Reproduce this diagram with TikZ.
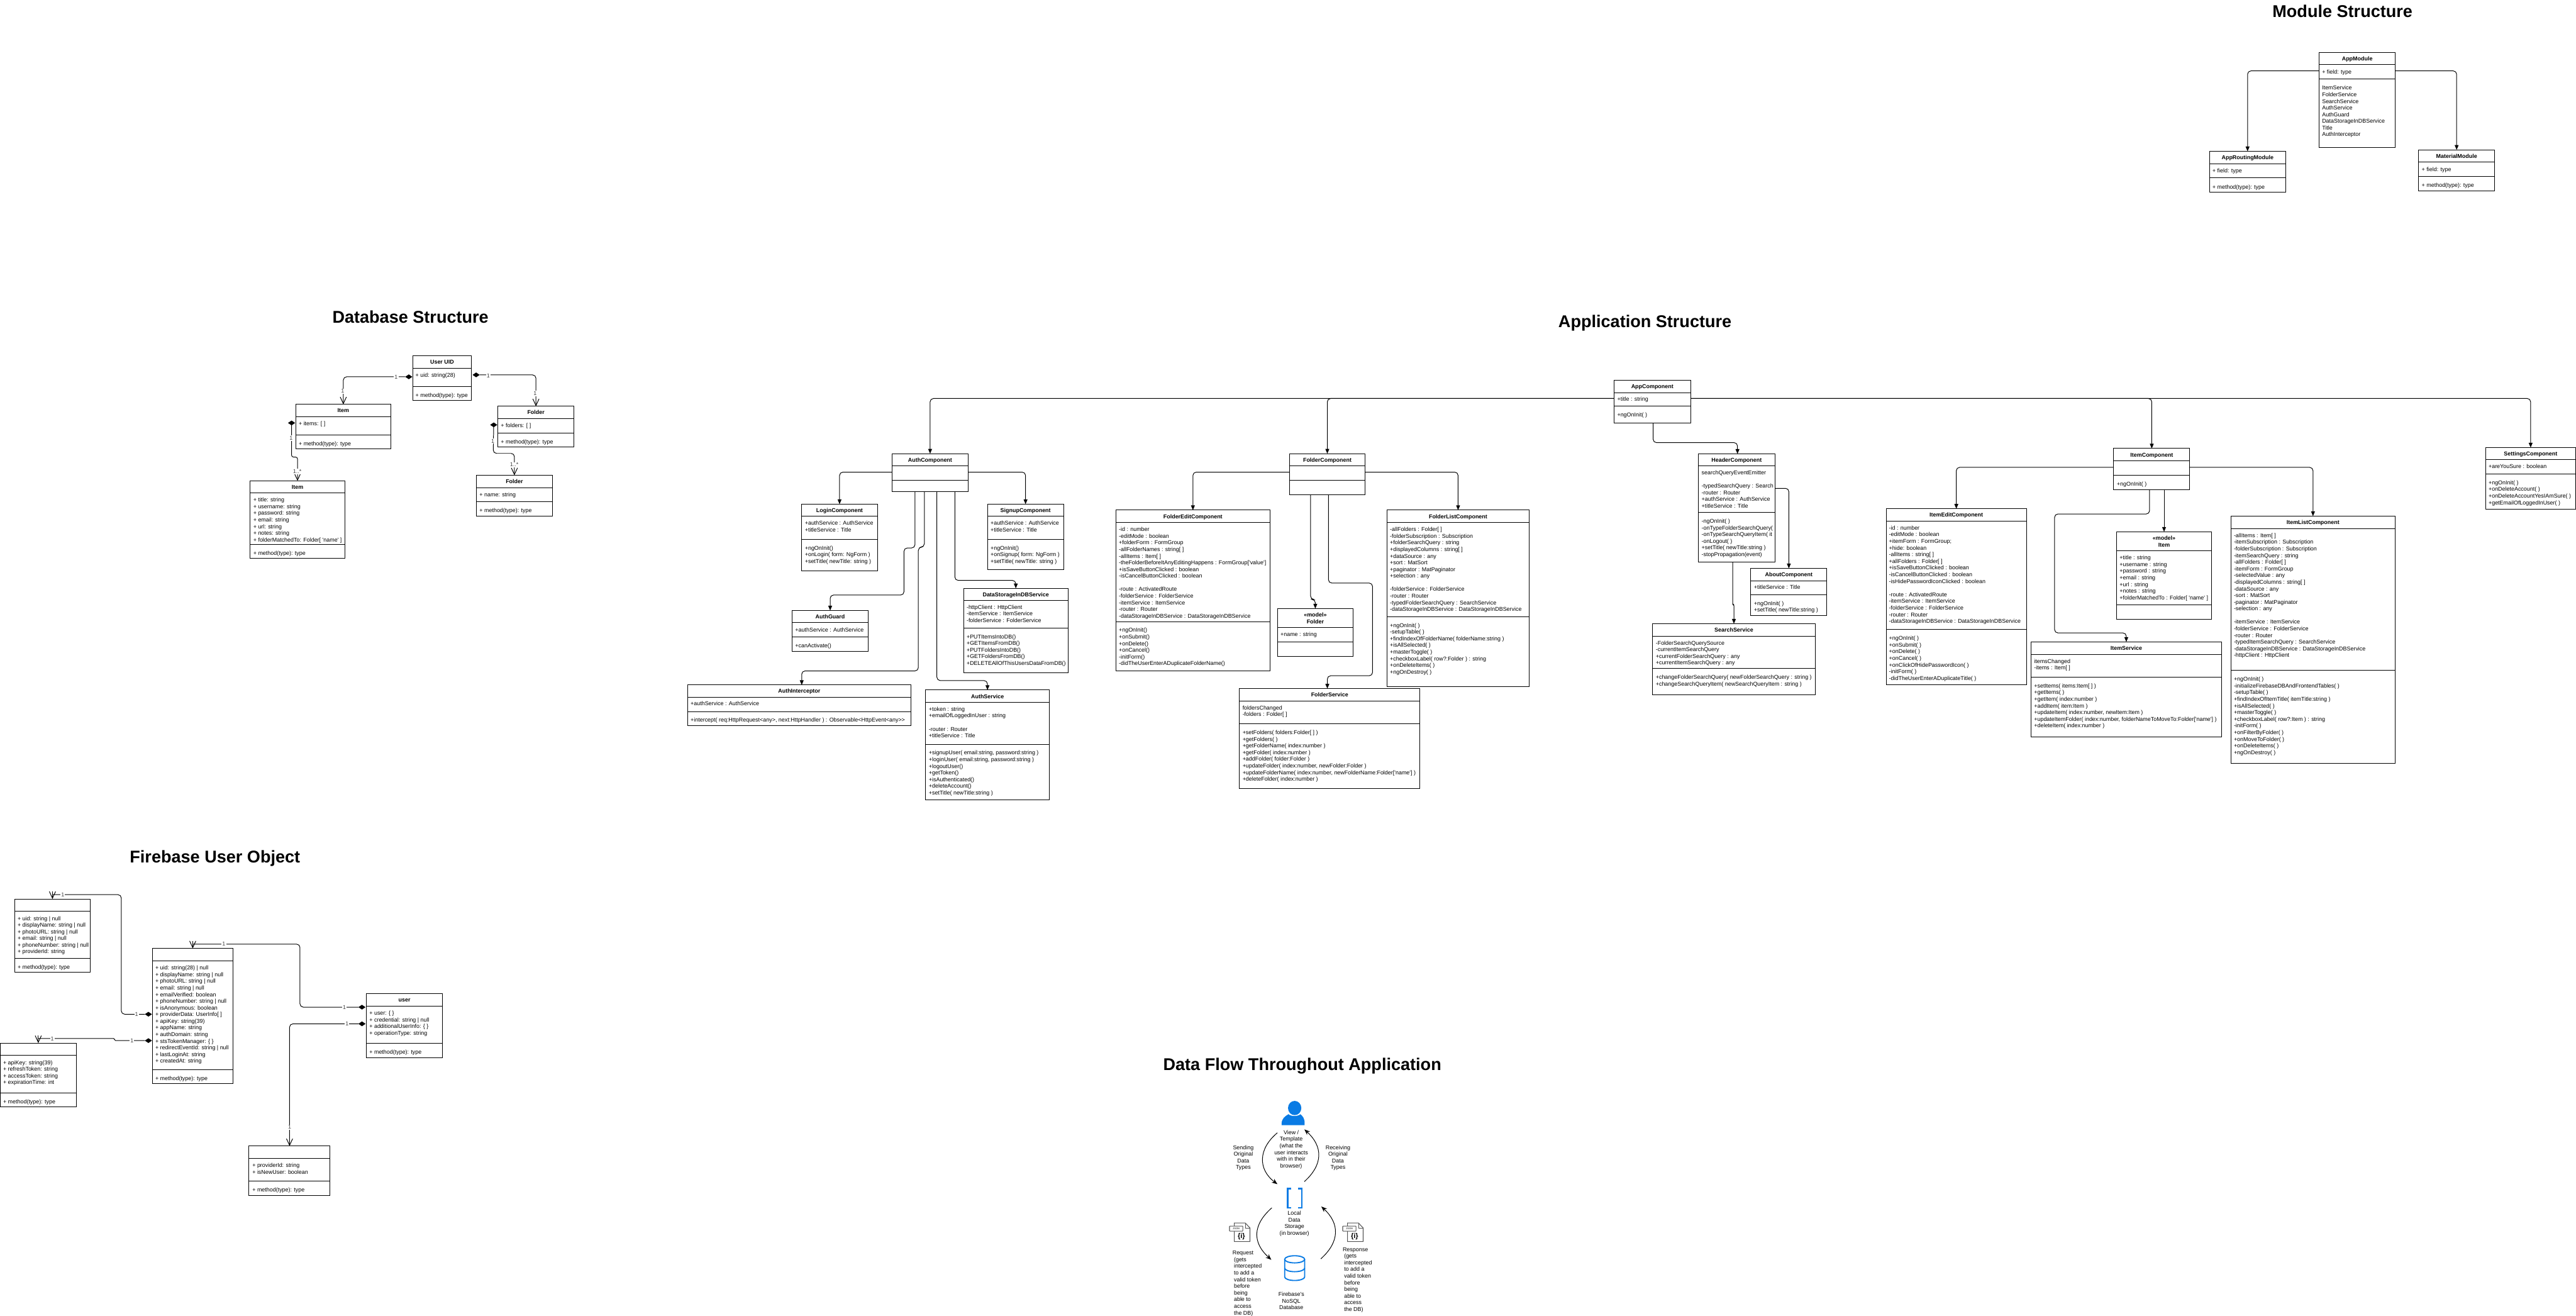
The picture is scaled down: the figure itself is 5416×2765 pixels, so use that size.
\documentclass[tikz,border=0pt]{standalone}
\usepackage{fontspec}
\setmainfont{Liberation Sans}[Ligatures=TeXOff]
\usetikzlibrary{arrows.meta,shapes.geometric}
\definecolor{flowblue}{HTML}{0A7BE4}
\definecolor{jsongray}{HTML}{555555}

\newcommand{\classbox}[8]{
  \node[classframe,minimum width={(#4-#2)*0.01cm},minimum height={(#5-#3)*0.01cm}] (#1) at ({(#2+#4)/2},{(#3+#5)/2}) {};
  \draw[classline] (#1.west |- 0,#6) -- (#1.east |- 0,#6);
  \draw[classline] (#1.west |- 0,#7) -- (#1.east |- 0,#7);
  \node[classname] (#1-name) at ({(#2+#4)/2},{(#3+#6)/2}) {\strut #8};
}
\newcommand{\classtext}[4]{
  \node[members] (#1) at (#2,{#3-5.6}) {\strut #4};
}
\newcommand{\jsonicon}[2]{
  \draw[jsongray,line width=0.014cm] ({#2+10},2570.5) -- ({#2+33},2570.5) -- ({#2+43},2581) -- ({#2+43},2609.5) -- ({#2+10},2609.5) -- cycle;
  \draw[jsongray,line width=0.01cm] ({#2+33},2570.5) -- ({#2+33},2581) -- ({#2+43},2581);
  \node[draw=jsongray,fill=white,line width=0.014cm,rounded corners=0.01cm,minimum width=0.28cm,minimum height=0.105cm,inner sep=0,font=\fontsize{1.5}{1.8}\selectfont\bfseries,text=jsongray] (#1-tag) at ({#2+14},2582.5) {JSON};
  \node[inner sep=0,font=\fontsize{4.2}{5}\selectfont\bfseries,text=black] (#1-brace) at ({#2+25},2599) {\{i\}};
}

\begin{document}
\begin{tikzpicture}[x=0.01cm,y=-0.01cm,line width=0.013cm,
    sheettitle/.style={anchor=base,inner sep=0,font=\fontsize{10.18}{12}\selectfont\bfseries},
    classframe/.style={draw,rectangle,inner sep=0,outer sep=0},
    classline/.style={draw},
    classname/.style={inner sep=0,align=center,yshift=-0.014cm,font=\fontsize{3.36}{3.98}\selectfont\bfseries},
    members/.style={anchor=north west,inner sep=0,align=left,font=\fontsize{3.36}{3.98}\selectfont},
    flow/.style={draw,rounded corners=0.07cm,-{Triangle[length=1mm,width=0.8mm]}},
    assoc/.style={draw,rounded corners=0.07cm,-{Straight Barb[length=1.4mm,width=1.3mm]}},
    link/.style={draw,rounded corners=0.07cm},
    compdot/.style={diamond,fill=black,inner sep=0,outer sep=0,minimum width=0.15cm,minimum height=0.1cm},
    mult/.style={fill=white,inner sep=0.4pt,text=black!75,font=\fontsize{3.36}{3.98}\selectfont},
    flowtext/.style={anchor=north,inner sep=0,align=center,font=\fontsize{3.36}{3.98}\selectfont},
    flowleft/.style={anchor=north west,inner sep=0,align=left,font=\fontsize{3.36}{3.98}\selectfont},
    curve/.style={draw,-{Stealth[length=1.2mm,width=0.95mm]}}]

  \path[use as bounding box,fill=white] (0,0) rectangle (5416,2765);

  \node[sheettitle] (moduletitle) at (4925,36) {Module Structure};
  \node[sheettitle] (databasetitle) at (863,679) {Database Structure};
  \node[sheettitle] (applicationtitle) at (3458.5,687.7) {Application Structure};
  \node[sheettitle] (firebasetitle) at (452,1814) {Firebase User Object};
  \node[sheettitle] (dataflowtitle) at (2738,2250) {Data Flow Throughout Application};

  \classbox{appmodule}{4876}{110}{5036}{310}{136}{166}{AppModule}
  \classtext{appmodule-f}{4881.5}{150}{+ field: type}
  \classtext{appmodule-m}{4881.5}{184}{ItemService\\FolderService\\SearchService\\AuthService\\AuthGuard\\DataStorageInDBService\\Title\\AuthInterceptor}
  \classbox{approuting}{4645.4}{318}{4805.5}{404}{344}{374}{AppRoutingModule}
  \classtext{approuting-f}{4651}{358}{+ field: type}
  \classtext{approuting-m}{4651}{392}{+ method(type): type}
  \classbox{material}{5085}{315}{5245}{401}{341}{371}{MaterialModule}
  \classtext{material-f}{5091}{355}{+ field: type}
  \classtext{material-m}{5091}{389}{+ method(type): type}
  \draw[flow] (appmodule.west |- 0,149) -| (approuting.north);
  \draw[flow] (appmodule.east |- 0,149) -| (material.north);

  \classbox{dbuser}{867.5}{748}{991.5}{842}{774}{812}{User UID}
  \classtext{dbuser-f}{873}{788}{+ uid: string(28)}
  \classtext{dbuser-m}{873}{830}{+ method(type): type}
  \classbox{dbitems}{622}{850}{821.6}{944}{876}{914}{Item}
  \classtext{dbitems-f}{627.5}{890}{+ items: [ ]}
  \classtext{dbitems-m}{627.5}{931.7}{+ method(type): type}
  \classbox{dbfolders}{1046.6}{854}{1207}{940}{880}{910}{Folder}
  \classtext{dbfolders-f}{1052.5}{893.5}{+ folders: [ ]}
  \classtext{dbfolders-m}{1052.5}{927.7}{+ method(type): type}
  \classbox{dbitem}{525.7}{1010.7}{725.3}{1174}{1036.3}{1144.7}{Item}
  \classtext{dbitem-f}{532}{1050}{+ title: string\\+ username: string\\+ password: string\\+ email: string\\+ url: string\\+ notes: string\\+ folderMatchedTo: Folder[ 'name' ]}
  \classtext{dbitem-m}{532}{1162}{+ method(type): type}
  \classbox{dbfolder}{1002}{999}{1161}{1085}{1025}{1055}{Folder}
  \classtext{dbfolder-f}{1007.5}{1039}{+ name: string}
  \classtext{dbfolder-m}{1007.5}{1072.7}{+ method(type): type}

  \node[compdot] (dbdot1) at (859.5,792) {};
  \node[compdot] (dbdot2) at (1001,788) {};
  \node[compdot] (dbdot3) at (613,889) {};
  \node[compdot] (dbdot4) at (1038,893) {};
  \draw[assoc] (dbdot1) -| (dbitems.north);
  \draw[assoc] (dbdot2) -| (dbfolders.north);
  \draw[assoc,rounded corners=0.04cm] (dbdot3) -- (613,960.7) -- (625.5,960.7) -- (dbitem.north);
  \draw[assoc] (dbdot4) -- (1037,953) -- (1081.6,953) -- (dbfolder.north);
  \node[mult] (dbm1) at (833,792) {1};
  \node[mult] (dbm2) at (720.5,822) {1};
  \node[mult] (dbm3) at (1026.5,790) {1};
  \node[mult] (dbm4) at (1125,827) {1};
  \node[mult] (dbm5) at (612,921) {1};
  \node[mult] (dbm6) at (625,991) {1..*};
  \node[mult] (dbm7) at (1036,927) {1};
  \node[mult] (dbm8) at (1081,977) {1..*};

  \classbox{fbinfo}{30.6}{1889.5}{190}{2044}{1915.6}{2014}{}
  \classtext{fbinfo-f}{36.4}{1929.6}{+ uid: string | null\\+ displayName: string | null\\+ photoURL: string | null\\+ email: string | null\\+ phoneNumber: string | null\\+ providerId: string}
  \classtext{fbinfo-m}{36.4}{2032}{+ method(type): type}
  \classbox{fbprofile}{320}{1993.4}{490.4}{2278}{2019.6}{2248}{}
  \classtext{fbprofile-f}{326}{2033.6}{+ uid: string(28) | null\\+ displayName: string | null\\+ photoURL: string | null\\+ email: string | null\\+ emailVerified: boolean\\+ phoneNumber: string | null\\+ isAnonymous: boolean\\+ providerData: UserInfo[ ]\\+ apiKey: string(39)\\+ appName: string\\+ authDomain: string\\+ stsTokenManager: \{ \}\\+ redirectEventId: string | null\\+ lastLoginAt: string\\+ createdAt: string}
  \classtext{fbprofile-m}{326}{2265.7}{+ method(type): type}
  \classbox{fbtoken}{1}{2192.4}{160}{2327}{2218.5}{2297}{}
  \classtext{fbtoken-f}{6}{2232.6}{+ apiKey: string(39)\\+ refreshToken: string\\+ accessToken: string\\+ expirationTime: int}
  \classtext{fbtoken-m}{6}{2315}{+ method(type): type}
  \classbox{fbuser}{770.4}{2088.4}{930.5}{2223}{2114.6}{2193}{user}
  \classtext{fbuser-f}{776}{2128.6}{+ user: \{ \}\\+ credential: string | null\\+ additionalUserInfo: \{ \}\\+ operationType: string}
  \classtext{fbuser-m}{776}{2210}{+ method(type): type}
  \classbox{fbextra}{523.6}{2409}{694}{2513}{2434.7}{2483}{}
  \classtext{fbextra-f}{530}{2448.8}{+ providerId: string\\+ isNewUser: boolean}
  \classtext{fbextra-m}{530}{2500.4}{+ method(type): type}

  \node[compdot] (fbdot1) at (761,2117) {};
  \node[compdot] (fbdot2) at (761,2152) {};
  \node[compdot] (fbdot3) at (312,2131.8) {};
  \node[compdot] (fbdot4) at (312,2187.3) {};
  \draw[link] (fbdot1) -- (630.7,2117) -- (630.7,1984.5) -- (fbprofile.north |- 0,1984.5);
  \draw[assoc] (fbprofile.north |- 0,1978) -- (fbprofile.north);
  \draw[assoc] (fbdot2) -| (fbextra.north);
  \draw[link] (fbdot3) -- (255,2131.8) -- (255,1880.5) -- (fbinfo.north |- 0,1880.5);
  \draw[assoc] (fbinfo.north |- 0,1874) -- (fbinfo.north);
  \draw[link,rounded corners=0.02cm] (fbdot4) -- (241,2187.3) -- (241,2182.8) -- (fbtoken.north |- 0,2182.8);
  \draw[assoc] (fbtoken.north |- 0,2177) -- (fbtoken.north);
  \node[mult] (fbm1) at (724,2117) {1};
  \node[mult] (fbm2) at (470.7,1984) {1};
  \node[mult] (fbm3) at (729.6,2152) {1};
  \node[mult] (fbm4) at (609,2369) {1};
  \node[mult] (fbm5) at (287,2131.8) {1};
  \node[mult] (fbm6) at (132,1880.5) {1};
  \node[mult] (fbm7) at (277.4,2187.7) {1};
  \node[mult] (fbm8) at (110,2183) {1};

  \classbox{appcomp}{3393.6}{799.6}{3554.3}{889}{825.5}{853.7}{AppComponent}
  \classtext{appcomp-f}{3399.6}{838.5}{+title : string}
  \classtext{appcomp-m}{3399.6}{870.6}{+ngOnInit( )}

  \classbox{auth}{1875.4}{953.6}{2035.6}{1033.6}{979.7}{1009.3}{AuthComponent}
  \classbox{login}{1685.6}{1059.7}{1844.7}{1199.3}{1085.4}{1133.4}{LoginComponent}
  \classtext{login-f}{1691.6}{1099}{+authService : AuthService\\+titleService : Title}
  \classtext{login-m}{1691.6}{1150.9}{+ngOnInit()\\+onLogin( form: NgForm )\\+setTitle( newTitle: string )}
  \classbox{signup}{2076}{1059.7}{2236.4}{1197.4}{1085.4}{1133.4}{SignupComponent}
  \classtext{signup-f}{2082}{1099}{+authService : AuthService\\+titleService : Title}
  \classtext{signup-m}{2082}{1150.9}{+ngOnInit()\\+onSignup( form: NgForm )\\+setTitle( newTitle: string )}
  \classbox{datastorage}{2025.7}{1236.7}{2245.7}{1414}{1262.3}{1320.5}{DataStorageInDBService}
  \classtext{datastorage-f}{2031.7}{1275.4}{-httpClient : HttpClient\\-itemService : ItemService\\-folderService : FolderService}
  \classtext{datastorage-m}{2031.7}{1337.5}{+PUTItemsIntoDB()\\+GETItemsFromDB()\\+PUTFoldersIntoDB()\\+GETFoldersFromDB()\\+DELETEAllOfThisUsersDataFromDB()}
  \classbox{authguard}{1665.3}{1283.2}{1825.5}{1369}{1308.9}{1339}{AuthGuard}
  \classtext{authguard-f}{1671.3}{1323}{+authService : AuthService}
  \classtext{authguard-m}{1671.3}{1356.9}{+canActivate()}
  \classbox{interceptor}{1445.4}{1439.8}{1915.5}{1525.5}{1465.4}{1495.5}{AuthInterceptor}
  \classtext{interceptor-f}{1451.4}{1478.5}{+authService : AuthService}
  \classtext{interceptor-m}{1451.4}{1512.5}{+intercept( req:HttpRequest<any>, next:HttpHandler ) : Observable<HttpEvent<any>>}
  \classbox{authservice}{1946.2}{1450.4}{2206.2}{1680.7}{1476.6}{1564.3}{AuthService}
  \classtext{authservice-f}{1952.2}{1489.7}{+token : string\\+emailOfLoggedInUser : string\\~\\-router : Router\\+titleService : Title}
  \classtext{authservice-m}{1952.2}{1581.8}{+signupUser( email:string, password:string )\\+loginUser( email:string, password:string )\\+logoutUser()\\+getToken()\\+isAuthenticated()\\+deleteAccount()\\+setTitle( newTitle:string )}

  \classbox{folder}{2710.8}{953.6}{2870.5}{1039.4}{979.7}{1009.3}{FolderComponent}
  \classbox{folderedit}{2345.8}{1072.3}{2670.3}{1410.2}{1098.5}{1306.5}{FolderEditComponent}
  \classtext{folderedit-f}{2351.8}{1112}{-id : number\\-editMode : boolean\\+folderForm : FormGroup\\-allFolderNames : string[ ]\\-allItems : Item[ ]\\-theFolderBeforeItAnyEditingHappens : FormGroup['value']\\+isSaveButtonClicked : boolean\\-isCancelButtonClicked : boolean\\~\\-route : ActivatedRoute\\-folderService : FolderService\\-itemService : ItemService\\-router : Router\\-dataStorageInDBService : DataStorageInDBService}
  \classtext{folderedit-m}{2351.8}{1323.9}{+ngOnInit()\\+onSubmit()\\+onDelete()\\+onCancel()\\-initForm()\\-didTheUserEnterADuplicateFolderName()}
  \classbox{foldermodel}{2685.6}{1279.3}{2845.2}{1379.7}{1319.5}{1349.6}{«model»\\\strut Folder}
  \classtext{foldermodel-f}{2691.6}{1333}{+name : string}
  \classbox{folderlist}{2915.7}{1072.3}{3215.5}{1442.7}{1098.5}{1296.3}{FolderListComponent}
  \classtext{folderlist-f}{2921.7}{1112}{-allFolders : Folder[ ]\\-folderSubscription : Subscription\\+folderSearchQuery : string\\+displayedColumns : string[ ]\\+dataSource : any\\+sort : MatSort\\+paginator : MatPaginator\\+selection : any\\~\\-folderService : FolderService\\-router : Router\\-typedFolderSearchQuery : SearchService\\-dataStorageInDBService : DataStorageInDBService}
  \classtext{folderlist-m}{2921.7}{1313.7}{+ngOnInit( )\\-setupTable( )\\+findIndexOfFolderName( folderName:string )\\+isAllSelected( )\\+masterToggle( )\\+checkboxLabel( row?:Folder ) : string\\+onDeleteItems( )\\+ngOnDestroy( )}
  \classbox{folderservice}{2605.8}{1447.5}{2985.5}{1657.4}{1473.7}{1521.7}{FolderService}
  \classtext{folderservice-f}{2611.8}{1486.8}{foldersChanged\\-folders : Folder[ ]}
  \classtext{folderservice-m}{2611.8}{1539}{+setFolders( folders:Folder[ ] )\\+getFolders( )\\+getFolderName( index:number )\\+getFolder( index:number )\\+addFolder( folder:Folder )\\+updateFolder( index:number, newFolder:Folder )\\+updateFolderName( index:number, newFolderName:Folder['name'] )\\+deleteFolder( index:number )}

  \classbox{header}{3571}{954}{3731.4}{1181}{979.5}{1077.3}{HeaderComponent}
  \classtext{header-f}{3577}{992.5}{searchQueryEventEmitter\\~\\-typedSearchQuery : Search\\-router : Router\\+authService : AuthService\\+titleService : Title}
  \classtext{header-m}{3577}{1094.7}{-ngOnInit( )\\-onTypeFolderSearchQuery(\\-onTypeSearchQueryItem( it\\-onLogout( )\\+setTitle( newTitle:string )\\-stopPropagation(event)}
  \classbox{about}{3681}{1194.7}{3841}{1294.3}{1220.6}{1250.5}{AboutComponent}
  \classtext{about-f}{3687}{1233.6}{+titleService : Title}
  \classtext{about-m}{3687}{1267.5}{+ngOnInit( )\\+setTitle( newTitle:string )}
  \classbox{search}{3474.6}{1311}{3816.4}{1461}{1337.6}{1405.4}{SearchService}
  \classtext{search-f}{3480.6}{1350.5}{-FolderSearchQuerySource\\-currentItemSearchQuery\\+currentFolderSearchQuery : any\\+currentItemSearchQuery : any}
  \classtext{search-m}{3480.6}{1422.4}{+changeFolderSearchQuery( newFolderSearchQuery : string )\\+changeSearchQueryItem( newSearchQueryItem : string )}

  \classbox{item}{4444}{942.7}{4604}{1029}{968.8}{998.7}{ItemComponent}
  \classtext{item-m}{4450}{1016.8}{+ngOnInit( )}
  \classbox{itemedit}{3965.7}{1069.4}{4260.5}{1439.4}{1095.5}{1323.2}{ItemEditComponent}
  \classtext{itemedit-f}{3971}{1109}{-id : number\\-editMode : boolean\\+itemForm : FormGroup;\\+hide: boolean\\-allItems : string[ ]\\+allFolders : Folder[ ]\\+isSaveButtonClicked : boolean\\-isCancelButtonClicked : boolean\\-isHidePasswordIconClicked : boolean\\~\\-route : ActivatedRoute\\-itemService : ItemService\\-folderService : FolderService\\-router : Router\\-dataStorageInDBService : DataStorageInDBService}
  \classtext{itemedit-m}{3971}{1340.9}{+ngOnInit( )\\+onSubmit( )\\+onDelete( )\\+onCancel( )\\+onClickOfHidePasswordIcon( )\\-initForm( )\\-didTheUserEnterADuplicateTitle( )}
  \classbox{itemmodel}{4450}{1117.8}{4649.8}{1301.7}{1158.2}{1271.8}{«model»\\\strut Item}
  \classtext{itemmodel-f}{4456}{1171.7}{+title : string\\+username : string\\+password : string\\+email : string\\+url : string\\+notes : string\\+folderMatchedTo : Folder[ 'name' ]}
  \classbox{itemservice}{4270.5}{1349.3}{4670.4}{1549.3}{1375.3}{1423.3}{ItemService}
  \classtext{itemservice-f}{4276}{1389}{itemsChanged\\-items : Item[ ]}
  \classtext{itemservice-m}{4276}{1440.7}{+setItems( items:Item[ ] )\\+getItems( )\\+getItem( index:number )\\+addItem( item:Item )\\+updateItem( index:number, newItem:Item )\\+updateItemFolder( index:number, folderNameToMoveTo:Folder['name'] )\\+deleteItem( index:number )}
  \classbox{itemlist}{4690.4}{1084.8}{5035.6}{1605}{1111}{1409}{ItemListComponent}
  \classtext{itemlist-f}{4696}{1124.8}{-allItems : Item[ ]\\-itemSubscription : Subscription\\-folderSubscription : Subscription\\-itemSearchQuery : string\\-allFolders : Folder[ ]\\-itemForm : FormGroup\\-selectedValue : any\\-displayedColumns : string[ ]\\-dataSource : any\\-sort : MatSort\\-paginator : MatPaginator\\-selection : any\\~\\-itemService : ItemService\\-folderService : FolderService\\-router : Router\\-typedItemSearchQuery : SearchService\\-dataStorageInDBService : DataStorageInDBService\\-httpClient : HttpClient}
  \classtext{itemlist-m}{4696}{1426.9}{+ngOnInit( )\\-initializeFirebaseDBAndFrontendTables( )\\-setupTable( )\\+findIndexOfItemTitle( itemTitle:string )\\+isAllSelected( )\\+masterToggle( )\\+checkboxLabel( row?:Item ) : string\\-initForm( )\\+onFilterByFolder( )\\+onMoveToFolder( )\\+onDeleteItems( )\\+ngOnDestroy( )}
  \classbox{settings}{5225.6}{940.7}{5415.6}{1070}{966.4}{996.7}{SettingsComponent}
  \classtext{settings-f}{5231.6}{979.7}{+areYouSure : boolean}
  \classtext{settings-m}{5231.6}{1013.7}{+ngOnInit( )\\+onDeleteAccount( )\\+onDeleteAccountYesIAmSure( )\\+getEmailOfLoggedInUser( )}

  \draw[flow] (appcomp.west |- 0,837.6) -| (auth.north);
  \draw[flow] (appcomp.west |- 0,837.6) -| (folder.north);
  \draw[flow] (appcomp.east |- 0,837.6) -| (item.north);
  \draw[flow] (appcomp.east |- 0,837.6) -| (settings.north);
  \draw[flow] (appcomp.south -| 3475.7,0) -- (3475.7,930.4) -- (3653,930.4) -- (header.north -| 3653,0);

  \draw[flow] (auth.west |- 0,992.4) -| (login.north);
  \draw[flow] (auth.east |- 0,992.4) -| (signup.north);
  \draw[flow] (auth.south -| 1923.7,0) -- (1923.7,1151.8) -- (1900.6,1151.8) -- (1900.6,1250.7) -- (1745.4,1250.7) -- (authguard.north);
  \draw[flow] (auth.south -| 1943.4,0) -- (1943.4,1149.9) -- (1930.8,1149.9) -- (1930.8,1410.2) -- (1685.6,1410.2) -- (interceptor.north -| 1685.6,0);
  \draw[flow] (auth.south -| 1969.8,0) -- (1969.8,1430.5) -- (2076,1430.5) -- (authservice.north);
  \draw[flow] (auth.south -| 2007.6,0) -- (2007.6,1220) -- (2135.7,1220) -- (datastorage.north);

  \draw[flow] (folder.west |- 0,992.4) -| (folderedit.north);
  \draw[flow] (folder.east |- 0,992.4) -| (folderlist.north);
  \draw[flow] (folder.south -| 2755.5,0) -- (2755.5,1260) -- (2765.4,1260) -- (foldermodel.north);
  \draw[flow] (folder.south -| 2793,0) -- (2793,1225.5) -- (2885.7,1225.5) -- (2885.7,1420.4) -- (2790.7,1420.4) -- (folderservice.north -| 2790.7,0);

  \draw[flow] (header.east |- 0,1026.4) -| (about.north);
  \draw[flow,rounded corners=0.02cm] (header.south -| 3642.9,0) -- (3642.9,1271) -- (3645.5,1271) -- (search.north);

  \draw[flow] (item.west |- 0,982.3) -| (itemedit.north);
  \draw[flow] (item.east |- 0,982.3) -| (itemlist.north);
  \draw[flow] (item.south -| 4519.4,0) -- (4519.4,1080.4) -- (4319.7,1080.4) -- (4319.7,1330.4) -- (4470.5,1330.4) -- (itemservice.north);
  \draw[flow] (item.south -| 4549.9,0) -- (itemmodel.north);

  \fill[flowblue] (2722,2329) ellipse [x radius=14,y radius=15];
  \fill[flowblue] (2694.6,2365) -- (2694.6,2361) .. controls (2695,2351) and (2702,2346) .. (2709,2342) .. controls (2714,2347) and (2729,2347) .. (2734,2342) .. controls (2739,2346) and (2743,2351) .. (2743,2361) -- (2743,2365) -- cycle;
  \draw[flowblue,line width=0.035cm] (2715,2498) -- (2707,2498) -- (2707,2538.7) -- (2715,2538.7);
  \draw[flowblue,line width=0.035cm] (2729.5,2498) -- (2737,2498) -- (2737,2538.7) -- (2729.5,2538.7);
  \draw[flowblue,line width=0.025cm] (2701,2647) -- (2701,2684) arc [start angle=180,end angle=0,x radius=21,y radius=7.5] -- (2743,2647);
  \draw[flowblue,line width=0.025cm] (2722,2647) ellipse [x radius=21,y radius=7.5];
  \draw[flowblue,line width=0.025cm] (2701,2665.5) arc [start angle=180,end angle=0,x radius=21,y radius=7.5];

  \jsonicon{jsonleft}{2585}
  \jsonicon{jsonright}{2823}

  \coordinate (viewleft) at (2685.7,2381);
  \coordinate (storeleft) at (2685.7,2489);
  \coordinate (storeright) at (2742.4,2483.6);
  \coordinate (viewright) at (2742.4,2374);
  \coordinate (localleft) at (2674,2538.7);
  \coordinate (nosqlleft) at (2673,2648);
  \coordinate (nosqlright) at (2777,2646);
  \coordinate (localright) at (2778,2536);
  \draw[curve] (viewleft) .. controls (2644.8,2415) and (2644.8,2458) .. (storeleft);
  \draw[curve] (storeright) .. controls (2781.9,2448) and (2781.9,2410) .. (viewright);
  \draw[curve] (localleft) .. controls (2633,2575) and (2633,2612) .. (nosqlleft);
  \draw[curve] (nosqlright) .. controls (2817,2610) and (2817,2572) .. (localright);

  \node[flowtext] (viewtext) at (2714.7,2373.9) {\strut View /\\Template\\(what the\\user interacts\\with in their\\browser)};
  \node[flowtext] (sendingtext) at (2614,2405.4) {\strut Sending\\Original\\Data\\Types};
  \node[flowtext] (receivingtext) at (2813,2405.4) {\strut Receiving\\Original\\Data\\Types};
  \node[flowtext] (localtext) at (2721.4,2543.4) {\strut Local\\Data\\Storage\\(in browser)};
  \node[flowtext] (nosqltext) at (2715,2714.4) {\strut Firebase's\\NoSQL\\Database};
  \node[flowleft] (requesttext) at (2593.7,2627.2) {\strut\hspace*{-0.03cm}Request\\(gets\\intercepted\\to add a\\valid token\\before\\being\\able to\\access\\the DB)};
  \node[flowleft] (responsetext) at (2825.4,2619.6) {\strut\hspace*{-0.03cm}Response\\(gets\\intercepted\\to add a\\valid token\\before\\being\\able to\\access\\the DB)};

\end{tikzpicture}
\end{document}
